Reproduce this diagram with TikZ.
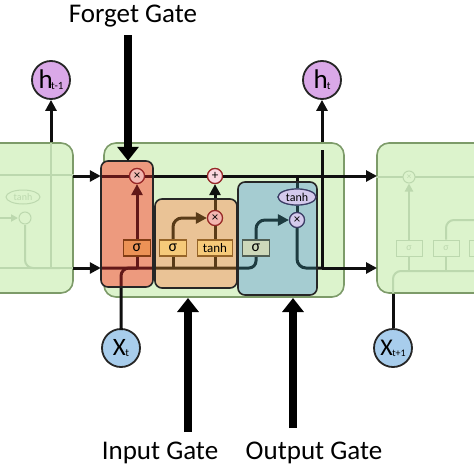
\documentclass[tikz,border=0pt]{standalone}
\usepackage{fontspec}
\setmainfont{Carlito}
\usetikzlibrary{arrows.meta,shapes.geometric}
\definecolor{cellfill}{RGB}{220,243,204}
\definecolor{cellborder}{RGB}{125,155,105}
\definecolor{faint}{RGB}{188,216,174}
% base colours of the gate boxes and the tint laid over them
\definecolor{forgetbase}{RGB}{228,214,172}
\definecolor{forgettint}{RGB}{255,43,43}
\definecolor{inputbase}{RGB}{238,223,208}
\definecolor{inputtint}{RGB}{228,143,43}
\definecolor{outputbase}{RGB}{223,238,238}
\definecolor{outputtint}{RGB}{57,143,157}
\definecolor{fsig}{RGB}{236,146,86}
\definecolor{fsigb}{RGB}{130,60,20}
\definecolor{isig}{RGB}{246,202,122}
\definecolor{isigb}{RGB}{150,100,40}
\definecolor{osig}{RGB}{205,216,186}
\definecolor{osigb}{RGB}{80,95,85}
\definecolor{hfill}{RGB}{218,168,232}
\definecolor{xfill}{RGB}{168,205,236}
\definecolor{multfill}{RGB}{242,182,176}
\definecolor{multb}{RGB}{150,40,40}
\definecolor{omult}{RGB}{212,202,236}
\definecolor{omultb}{RGB}{60,60,100}
\definecolor{plusfill}{RGB}{250,215,225}
\definecolor{wirec}{RGB}{15,15,15}
\begin{document}
\begin{tikzpicture}[x=1pt,y=-1pt,
  cellbox/.style={draw=cellborder, fill=cellfill, line width=1.6pt, rounded corners=12pt, inner sep=0pt},
  gatebase/.style={fill=#1, rounded corners=7pt, inner sep=0pt},
  gatetint/.style={draw=black!85, line width=1.6pt, rounded corners=7pt, fill=#1, fill opacity=0.35, inner sep=0pt},
  wire/.style={draw=wirec, line width=3pt},
  fwire/.style={draw=faint, line width=2pt},
  arr/.style={-{Triangle[length=11pt,width=11pt]}},
  gatearrow/.style={draw=black, line width=8.5pt, -{Triangle[length=14pt,width=21pt]}},
  smallbox/.style args={#1/#2}{draw=#2, fill=#1, line width=1.2pt, minimum width=27pt, minimum height=16pt, inner sep=0pt, font=\fontsize{16}{16}\selectfont},
  mult/.style args={#1/#2}{circle, draw=#2, line width=1.2pt, fill=#1, minimum size=15pt, inner sep=0pt, font=\fontsize{13}{13}\selectfont},
  state/.style={circle, draw=black!85, line width=1.8pt, fill=#1, minimum size=38pt, inner sep=0pt},
  label/.style={font=\fontsize{27}{27}\selectfont, inner sep=0pt}
]
\useasboundingbox (0,0) rectangle (474,474);

% cells
\node[cellbox, minimum width=110pt, minimum height=150pt] (lcell) at (18,218) {};
\node[cellbox, minimum width=140pt, minimum height=150pt] (rcell) at (447,218) {};
\node[cellbox, minimum width=240pt, minimum height=154pt] (mcell) at (224,220) {};

% faint contents of left cell
\draw[fwire] (0,175) -- (lcell.east |- 0,175);
\draw[fwire] (51,143) -- (51,268);
\draw[fwire] (0,268) -- (lcell.east |- 0,268);
\draw[fwire, rounded corners=8pt] (25,225) |- (60,268);
\draw[fwire, -{Triangle[length=7pt,width=7pt]}] (0,218) -- (18,218);
\node[ellipse, draw=faint, line width=1pt, minimum width=34pt, minimum height=14pt, inner sep=0pt, text=faint, font=\fontsize{10}{10}\selectfont] (ltanh) at (23,197) {tanh};
\node[circle, draw=faint, line width=1pt, minimum size=12pt, inner sep=0pt] (lx) at (25,218) {};

% faint contents of right cell
\draw[fwire] (rcell.west |- 0,177) -- (474,177);
\node[circle, draw=faint, line width=1pt, fill=cellfill, minimum size=12pt, inner sep=0pt, text=faint, font=\fontsize{9}{9}\selectfont] (rx) at (409,177) {×};
\node[draw=faint, line width=1pt, minimum width=26pt, minimum height=16pt, inner sep=0pt, text=faint] (rs1) at (409,248) {σ};
\node[draw=faint, line width=1pt, minimum width=26pt, minimum height=16pt, inner sep=0pt, text=faint] (rs2) at (446,248) {σ};
\node[draw=faint, line width=1pt, minimum width=26pt, minimum height=16pt, inner sep=0pt] (rs3) at (482,248) {};
\draw[fwire, -{Triangle[length=8pt,width=8pt]}] (rs1) -- (rx);
\draw[fwire, rounded corners=8pt] (rs2.north) |- (474,220);
\draw[fwire, rounded corners=8pt] (393,293) |- (474,271);
\draw[fwire] (rs1.south) -- (rs1.south |- 0,271);
\draw[fwire] (rs2.south) -- (rs2.south |- 0,271);

% coordinates
\coordinate (cL) at (73,176);
\coordinate (cR) at (377,176);
\coordinate (bL) at (73,268);
\coordinate (bR) at (377,268);

% state circles
\node[state=hfill] (ht1) at (51,80) {\fontsize{27}{27}\selectfont h\kern-1.5pt\raisebox{-1pt}{\fontsize{11}{11}\selectfont t-1}};
\node[state=hfill] (ht) at (322,80) {\fontsize{27}{27}\selectfont h\kern-1pt\raisebox{-1pt}{\fontsize{11}{11}\selectfont t}};
\node[state=xfill] (xt) at (121,348) {\fontsize{25}{25}\selectfont X\kern-0.5pt\raisebox{-1pt}{\fontsize{11}{11}\selectfont t}};
\node[state=xfill] (xt1) at (393,348) {\fontsize{24}{24}\selectfont X\kern-0.5pt\raisebox{-1pt}{\fontsize{10}{10}\selectfont t+1}};

% gate boxes, base colour
\node[gatebase=forgetbase, minimum width=52pt, minimum height=126pt] (fg) at (127,224) {};
\node[gatebase=inputbase, minimum width=82pt, minimum height=89pt] (ig) at (196,243.5) {};
\node[gatebase=outputbase, minimum width=79pt, minimum height=113pt] (og) at (277.5,238.5) {};

% inner node positions
\node[smallbox=fsig/fsigb] (fs) at (137,248) {σ};
\node[smallbox=isig/isigb] (is) at (173,248) {σ};
\node[smallbox=isig/isigb, minimum width=35pt, font=\fontsize{13}{13}\selectfont] (it) at (215,248) {tanh};
\node[smallbox=osig/osigb] (os) at (256,248) {σ};
\node[ellipse, draw=omultb, line width=1.2pt, fill=omult, minimum width=38pt, minimum height=16pt, inner sep=0pt, font=\fontsize{12}{12}\selectfont] (ot) at (297,197) {tanh};
\node[mult=multfill/multb] (fx) at (137,176) {×};
\node[mult=plusfill/multb] (pl) at (215,176) {+};
\node[mult=multfill/multb] (ix) at (215,218) {×};
\node[mult=omult/omultb] (ox) at (297,220) {×};

% wires inside the main cell
\coordinate (bA) at (101,268);
\draw[wire] (ht |- bR) -- (322,150);
\draw[wire] (101,176) -- (fx) -- (pl);
\draw[wire, rounded corners=7pt] (bA) -- (os.south |- bA) -- (os.south);
\draw[wire] (fs.south |- bA) -- (fs.south);
\draw[wire] (is.south |- bA) -- (is.south);
\draw[wire] (it.south |- bA) -- (it.south);
\draw[wire, rounded corners=8pt] (121,330) |- (fs.south |- bA);
\draw[wire, arr] (fs) -- (fx);
\draw[wire, arr, rounded corners=9pt] (is.north) |- (ix.west);
\draw[wire] (it) -- (ix);
\draw[wire, arr] (ix) -- (pl);
\draw[wire] (ot.north |- cL) -- (ot.north);
\draw[wire] (ot) -- (ox);
\draw[wire, arr, rounded corners=9pt] (os.north) |- (ox.west);
\draw[wire, rounded corners=9pt] (ox.south) |- (ht |- bR);

% gate boxes, tint and border over the wires
\node[gatetint=forgettint, minimum width=52pt, minimum height=126pt] at (fg) {};
\node[gatetint=inputtint, minimum width=82pt, minimum height=89pt] at (ig) {};
\node[gatetint=outputtint, minimum width=79pt, minimum height=113pt] at (og) {};

% inner nodes again on top
\node[smallbox=fsig/fsigb] at (fs) {σ};
\node[smallbox=isig/isigb] at (is) {σ};
\node[smallbox=isig/isigb, minimum width=35pt, font=\fontsize{13}{13}\selectfont] at (it) {tanh};
\node[smallbox=osig/osigb] at (os) {σ};
\node[ellipse, draw=omultb, line width=1.2pt, fill=omult, minimum width=38pt, minimum height=16pt, inner sep=0pt, font=\fontsize{12}{12}\selectfont] at (ot) {tanh};
\node[mult=multfill/multb] at (fx) {×};
\node[mult=plusfill/multb] at (pl) {+};
\node[mult=multfill/multb] at (ix) {×};
\node[mult=omult/omultb] at (ox) {×};

% connections between cells and outputs
\draw[wire, arr] (cL) -- (fg.west |- cL);
\draw[wire, arr] (bL) -- (fg.west |- bL);
\draw[wire, arr] (pl) -- (cR);
\draw[wire, arr] (ht |- bR) -- (bR);
\draw[wire, arr] (ht |- mcell.north) -- (ht);
\draw[wire, arr] (ht1 |- lcell.north) -- (ht1);
\draw[wire] (xt) -- (121,330);
\draw[wire] (xt1) -- (xt1 |- rcell.south);

% gate labels and arrows
\node[label] (fl) at (133,16) {Forget Gate};
\node[label] (il) at (160,453) {Input Gate};
\node[label] (ol) at (314,453) {Output Gate};
\coordinate (ftop) at (128,35);
\coordinate (ibot) at (188,432);
\coordinate (obot) at (293,428);
\draw[gatearrow] (ftop) -- (ftop |- fg.north);
\draw[gatearrow] (ibot) -- (188,298);
\draw[gatearrow] (obot) -- (293,298);
\end{tikzpicture}
\end{document}
